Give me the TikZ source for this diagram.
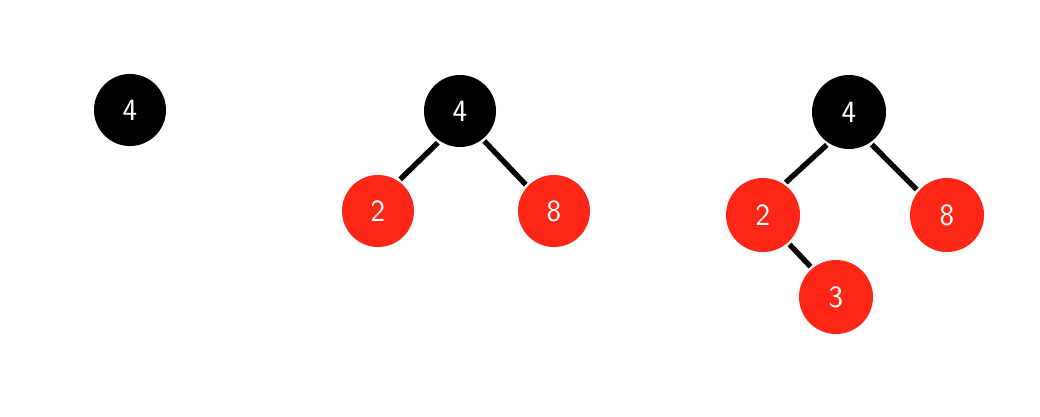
\documentclass[tikz,border=0pt]{standalone}
\usepackage{xcolor}
\usepackage{tikz}
\definecolor{rbred}{RGB}{254,38,22}

\begin{document}
\begin{tikzpicture}[x=0.025cm,y=-0.025cm,line width=3.8pt,
  every node/.style={circle,inner sep=0pt,minimum size=1.8cm,text=white,font=\sffamily\fontsize{22}{22}\selectfont},
  blk/.style={fill=black},
  rd/.style={fill=rbred}]
%
\useasboundingbox (0,0) rectangle (1040,416);
%
\node[blk] (a4) at (130,110) {4};
%
\node[blk] (b4) at (460,111) {4};
\node[rd] (b2) at (378,211) {2};
\node[rd] (b8) at (554,211) {8};
%
\node[blk, minimum size=1.85cm] (c4) at (849,112) {4};
\node[rd, minimum size=1.85cm] (c2) at (763,215) {2};
\node[rd, minimum size=1.85cm] (c8) at (947,215) {8};
\node[rd, minimum size=1.85cm] (c3) at (836,297) {3};
%
\draw (b4.235) -- (b2.55);
\draw (b4.309) -- (b8.137);
\draw (c4.236) -- (c2.55);
\draw (c4.305) -- (c8.140);
\draw (c2.312) -- (c3.130);
%
\end{tikzpicture}
\end{document}
